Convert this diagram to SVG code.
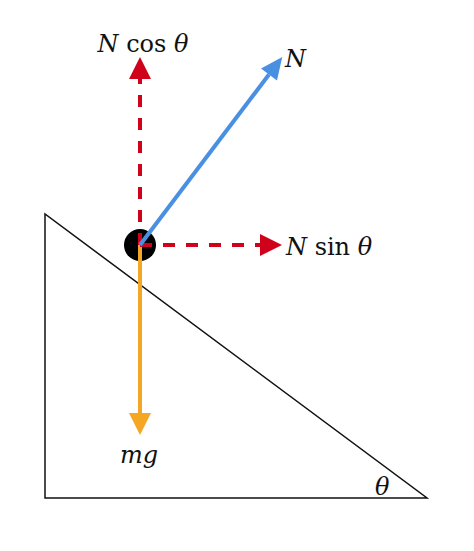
<svg xmlns="http://www.w3.org/2000/svg" width="474" height="551" viewBox="0 0 474 551">
  <style>
    .lbl { font-family: "DejaVu Serif", "Liberation Serif", serif; font-size: 24px; fill: #111; }
    .it { font-style: italic; }
    .red { stroke: #D0021B; stroke-width: 4; fill: none; stroke-dasharray: 12 11; }
    .blue { stroke: #4A90E2; stroke-width: 4; fill: none; }
    .orange { stroke: #F5A623; stroke-width: 4; fill: none; }
  </style>
  <defs>
    <marker id="hRed" markerUnits="userSpaceOnUse" markerWidth="24" markerHeight="22" refX="0" refY="11" orient="auto" overflow="visible">
      <path d="M0,0 L22,11 L0,22 z" fill="#D0021B"/>
    </marker>
    <marker id="hBlue" markerUnits="userSpaceOnUse" markerWidth="24" markerHeight="22" refX="0" refY="10" orient="auto" overflow="visible">
      <path d="M0,0 L22,10 L0,20 z" fill="#4A90E2"/>
    </marker>
    <marker id="hOrange" markerUnits="userSpaceOnUse" markerWidth="24" markerHeight="22" refX="0" refY="11" orient="auto" overflow="visible">
      <path d="M0,0 L22,11 L0,22 z" fill="#F5A623"/>
    </marker>
  </defs>
  <rect width="474" height="551" fill="#ffffff"/>

  <g id="incline">
    <polygon points="45,214 45,498 427,498" fill="none" stroke="#111" stroke-width="1.5"/>
    <text class="lbl it" x="375" y="495">θ</text>
  </g>

  <g id="ball">
    <circle cx="140" cy="245" r="16" fill="#000"/>
  </g>

  <g id="connectors">
    <line class="orange" x1="140" y1="245" x2="140" y2="413" marker-end="url(#hOrange)"/>
    <line class="red" x1="140" y1="245" x2="140" y2="79" marker-end="url(#hRed)"/>
    <line class="red" x1="140" y1="245" x2="260" y2="245" marker-end="url(#hRed)"/>
    <line class="blue" x1="140" y1="245" x2="269" y2="74.5" marker-end="url(#hBlue)"/>
  </g>

  <g id="label-ncos">
    <text class="lbl" x="143" y="52" text-anchor="middle"><tspan class="it">N</tspan> cos <tspan class="it">θ</tspan></text>
  </g>
  <g id="label-n">
    <text class="lbl it" x="285" y="67">N</text>
  </g>
  <g id="label-nsin">
    <text class="lbl" x="286" y="255"><tspan class="it">N</tspan> sin <tspan class="it">θ</tspan></text>
  </g>
  <g id="label-mg">
    <text class="lbl it" x="139" y="463" text-anchor="middle">mg</text>
  </g>
</svg>
